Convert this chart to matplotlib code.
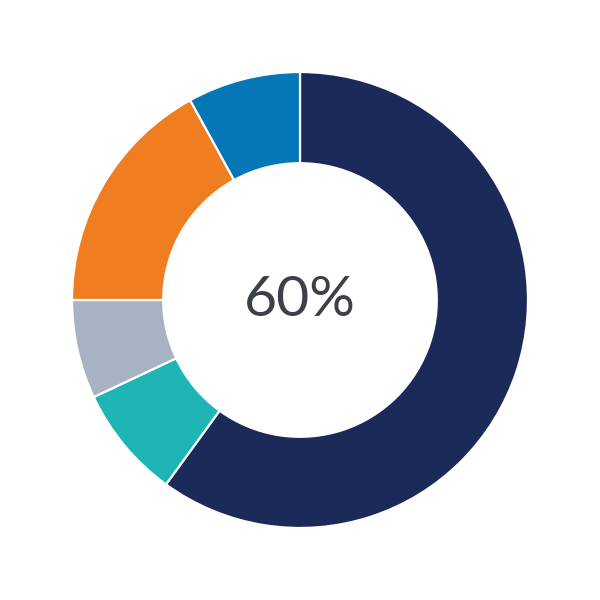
import matplotlib
matplotlib.use("Agg")
import matplotlib.pyplot as plt

labels = ["Navy", "Teal", "Gray", "Orange", "Blue"]
values = [60, 8, 7, 17, 8]
colors = ["#1c2a5a", "#1fb5b5", "#a7b3c3", "#f07e20", "#0577b7"]
center_text = "60%"

fig = plt.figure(figsize=(6, 6), dpi=100)
ax = fig.add_axes([0, 0, 1, 1])
ax.pie(values, colors=colors, startangle=90, counterclock=False, radius=1.0,
       wedgeprops=dict(width=0.4, edgecolor="white", linewidth=1.6))
lim = 300 / 228
ax.set_xlim(-lim, lim)
ax.set_ylim(-lim, lim)
ax.set_aspect("equal")
ax.axis("off")
ax.text(0, 0, center_text, ha="center", va="center", fontsize=41,
        family=["Lato", "DejaVu Sans"], fontweight="normal", color="#3b4049")
fig.savefig("out.png", dpi=100, facecolor="white")
